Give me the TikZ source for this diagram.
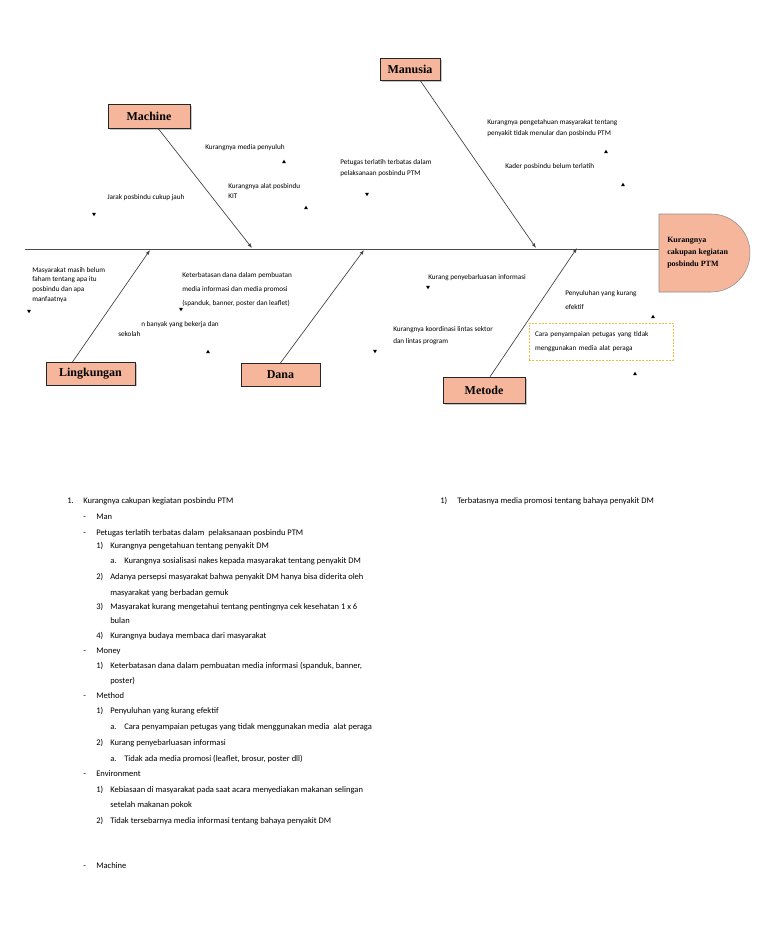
\documentclass[tikz,border=0pt]{standalone}
\usepackage{fontspec}
\setmainfont{Carlito}
\newfontfamily\causefont{Liberation Serif}
\usetikzlibrary{arrows.meta,shapes.geometric,shadows}
\definecolor{bonesalmon}{RGB}{245,182,155}
\definecolor{noteline}{RGB}{236,190,72}
\newcommand\listmark[2]{\makebox[#1][l]{#2}}
\tikzset{
  cause/.style    = {shape=rectangle, draw=black!85, fill=bonesalmon, inner sep=0pt,
                     font=\causefont\bfseries\fontsize{9}{10}\selectfont,
                     drop shadow={shadow xshift=1.2pt, shadow yshift=-1.2pt, opacity=.45}},
  headtext/.style = {align=left, inner sep=3pt,
                     font=\causefont\bfseries\fontsize{6}{9}\selectfont},
  bone/.style     = {draw=black!75, line width=.5pt, -{Latex[length=3.5pt,width=2.6pt]}},
  spine/.style    = {draw=black!70, line width=.6pt},
  note/.style     = {anchor=north west, inner sep=0pt, align=left,
                     font=\fontsize{5.4}{8.25}\selectfont},
  item/.style     = {anchor=west, inner sep=0pt, font=\fontsize{6.4}{12}\selectfont},
  upmark/.style   = {regular polygon, regular polygon sides=3, fill=black,
                     inner sep=0pt, minimum size=3.4pt},
  downmark/.style = {upmark, shape border rotate=180}
}
\begin{document}
\begin{tikzpicture}
  [
    x=0.75pt, y=-0.75pt
  ]
  \useasboundingbox (0,0) rectangle (768,932);

  \coordinate (tail)  at (25,249);
  \coordinate (mouth) at (659,249);
  \coordinate (jmac)  at (252,248);
  \coordinate (jman)  at (536,248);
  \coordinate (jling) at (150,250);
  \coordinate (jdana) at (364,250);
  \coordinate (jmet)  at (577,248);
  \draw[spine] (tail) -- (mouth);

  \filldraw[fill=bonesalmon, draw=black!45, line width=.4pt]
    (659,214) -- (711,214) arc[start angle=-90, end angle=90, radius=39]
    -- (659,292) -- cycle;
  \node[headtext, anchor=west] (head) at (663,253) {Kurangnya\\cakupan kegiatan\\posbindu PTM};

  \node[cause, minimum width=61.5pt, minimum height=18pt]   (machine) at (149,116)   {Machine};
  \node[cause, minimum width=45pt,   minimum height=16.5pt] (manusia) at (410,69)    {Manusia};
  \node[cause, minimum width=67pt,   minimum height=17pt]   (ling)    at (90.5,373.5) {Lingkungan};
  \node[cause, minimum width=59pt,   minimum height=17pt]   (dana)    at (280.5,374.5) {Dana};
  \node[cause, minimum width=61.5pt, minimum height=19.5pt] (metode)  at (484,390)   {Metode};

  \draw[bone] ([xshift=6.75pt]machine.south) -- (jmac);
  \draw[bone] ([xshift=7.5pt]manusia.south)  -- (jman);
  \draw[bone] ([xshift=-13.5pt]ling.north)   -- (jling);
  \draw[bone] (dana.north)                   -- (jdana);
  \draw[bone] ([xshift=4.5pt]metode.north)   -- (jmet);

  \node[note] (penyuluh) at (205,144) {Kurangnya media penyuluh};
  \node[note] (alat)     at (228,183) {Kurangnya alat posbindu\\[-0.75pt]KIT};
  \node[note] (jarak)    at (107,194) {Jarak posbindu cukup jauh};
  \node[note] (petugas)  at (340,159) {Petugas terlatih terbatas dalam\\pelaksanaan posbindu PTM};
  \node[note] (tahu)     at (487,119) {Kurangnya pengetahuan masyarakat tentang\\penyakit tidak menular dan posbindu PTM};
  \node[note] (kader)    at (505,163) {Kader posbindu belum terlatih};
  \node[note] (faham)    at (32,267)  {Masyarakat masih belum\\[-1pt]faham tentang apa itu\\[-1pt]posbindu dan apa\\[-1pt]manfaatnya};
  \node[note] (dananote) at (182,272) {Keterbatasan dana dalam pembuatan\\[2.25pt]media informasi dan media promosi\\[2.25pt](spanduk, banner, poster dan leaflet)};
  \node[note] (sekolah)  at (118,321) {\hspace*{17.25pt}n banyak yang bekerja dan\\[-0.75pt]sekolah};
  \node[note] (sebar)    at (428,274) {Kurang penyebarluasan informasi};
  \node[note] (koord)    at (393,326) {Kurangnya koordinasi lintas sektor\\[0.75pt]dan lintas program};
  \node[note] (efektif)  at (565,290) {Penyuluhan yang kurang\\[2.25pt]efektif};
  \node[note, anchor=center, draw=noteline, line width=.6pt, dash pattern=on 1.5pt off 1pt,
        minimum width=108pt, minimum height=27.75pt, inner sep=4.5pt, text width=99pt]
        (cara) at (601,341.5) {Cara penyampaian petugas yang tidak\\[2.25pt]menggunakan media  alat peraga};

  \node[upmark]   (t1)  at (284,162) {};
  \node[upmark]   (t2)  at (306,208) {};
  \node[downmark] (t3)  at (94,214)  {};
  \node[downmark] (t4)  at (367,194) {};
  \node[upmark]   (t5)  at (606,152) {};
  \node[upmark]   (t6)  at (623,185) {};
  \node[downmark] (t7)  at (29,311)  {};
  \node[downmark] (t8)  at (181,309) {};
  \node[upmark]   (t9)  at (208,352) {};
  \node[downmark] (t10) at (428,287) {};
  \node[downmark] (t11) at (375,351) {};
  \node[upmark]   (t12) at (653,317) {};
  \node[upmark]   (t13) at (635,374) {};

  \node[item] (l1)  at (67,501)  {\listmark{12pt}{1.}Kurangnya cakupan kegiatan posbindu PTM};
  \node[item] (l2)  at (83,517)  {\listmark{9.75pt}{-}Man};
  \node[item] (l3)  at (83,533)  {\listmark{9.75pt}{-}Petugas terlatih terbatas dalam\ \ pelaksanaan posbindu PTM};
  \node[item] (l4)  at (96,546)  {\listmark{10.5pt}{1)}Kurangnya pengetahuan tentang penyakit DM};
  \node[item] (l5)  at (110,561) {\listmark{10.5pt}{a.}Kurangnya sosialisasi nakes kepada masyarakat tentang penyakit DM};
  \node[item] (l6)  at (96,577)  {\listmark{10.5pt}{2)}Adanya persepsi masyarakat bahwa penyakit DM hanya bisa diderita oleh};
  \node[item] (l7)  at (110,593) {masyarakat yang berbadan gemuk};
  \node[item] (l8)  at (96,607)  {\listmark{10.5pt}{3)}Masyarakat kurang mengetahui tentang pentingnya cek kesehatan 1 x 6};
  \node[item] (l9)  at (110,621) {bulan};
  \node[item] (l10) at (96,636)  {\listmark{10.5pt}{4)}Kurangnya budaya membaca dari masyarakat};
  \node[item] (l11) at (83,651)  {\listmark{9.75pt}{-}Money};
  \node[item] (l12) at (96,666)  {\listmark{10.5pt}{1)}Keterbatasan dana dalam pembuatan media informasi (spanduk, banner,};
  \node[item] (l13) at (110,681) {poster)};
  \node[item] (l14) at (83,696)  {\listmark{9.75pt}{-}Method};
  \node[item] (l15) at (96,711)  {\listmark{10.5pt}{1)}Penyuluhan yang kurang efektif};
  \node[item] (l16) at (110,727) {\listmark{10.5pt}{a.}Cara penyampaian petugas yang tidak menggunakan media\ \ alat peraga};
  \node[item] (l17) at (96,743)  {\listmark{10.5pt}{2)}Kurang penyebarluasan informasi};
  \node[item] (l18) at (110,759) {\listmark{10.5pt}{a.}Tidak ada media promosi (leaflet, brosur, poster dll)};
  \node[item] (l19) at (83,774)  {\listmark{9.75pt}{-}Environment};
  \node[item] (l20) at (96,790)  {\listmark{10.5pt}{1)}Kebiasaan di masyarakat pada saat acara menyediakan makanan selingan};
  \node[item] (l21) at (110,805) {setelah makanan pokok};
  \node[item] (l22) at (96,821)  {\listmark{10.5pt}{2)}Tidak tersebarnya media informasi tentang bahaya penyakit DM};
  \node[item] (l23) at (83,866)  {\listmark{9.75pt}{-}Machine};
  \node[item] (r1)  at (440,501) {\listmark{12.75pt}{1)}Terbatasnya media promosi tentang bahaya penyakit DM};
\end{tikzpicture}
\end{document}
